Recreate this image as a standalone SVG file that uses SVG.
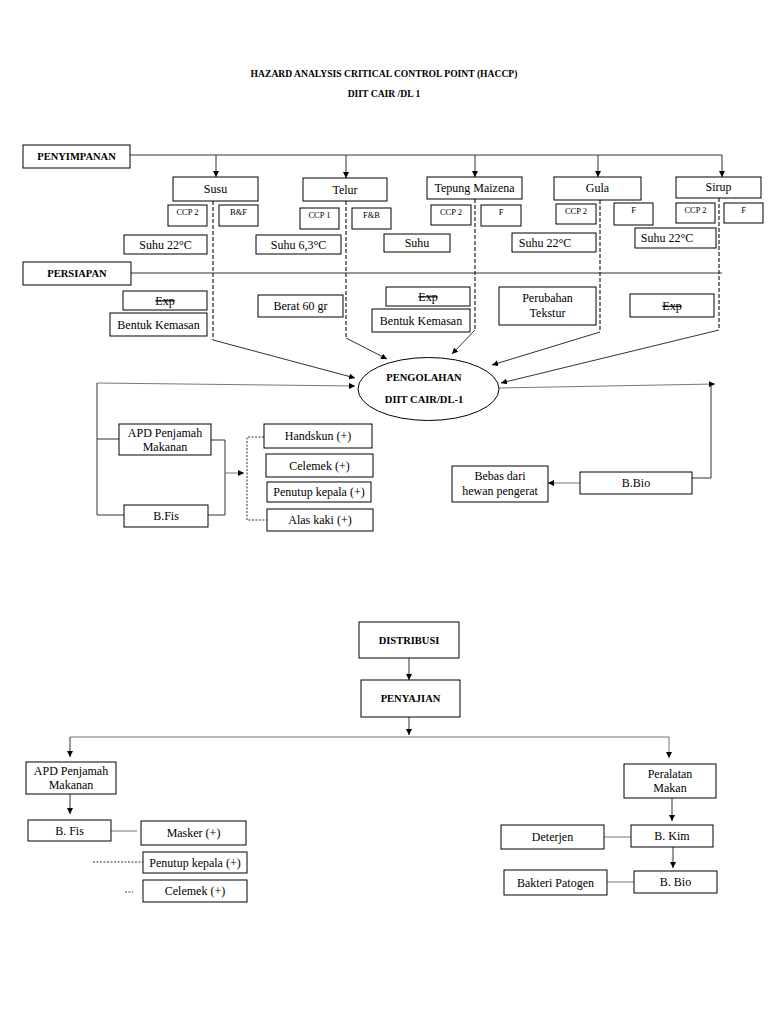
<svg xmlns="http://www.w3.org/2000/svg" width="768" height="1024" viewBox="0 0 768 1024">
<style>
  .bx{fill:#fff;stroke:#000;stroke-width:1}
  .t{font-family:"Liberation Serif","Times New Roman",serif;font-size:12px;fill:#000;text-anchor:middle}
  .s{font-family:"Liberation Serif","Times New Roman",serif;font-size:8.5px;fill:#000;text-anchor:middle}
  .b{font-family:"Liberation Serif","Times New Roman",serif;font-size:10.5px;font-weight:bold;fill:#000;text-anchor:middle}
  .h{font-family:"Liberation Serif","Times New Roman",serif;font-size:9.6px;font-weight:bold;fill:#000;text-anchor:middle}
  .ln{fill:none;stroke:#333;stroke-width:1}
  .gl{fill:none;stroke:#777;stroke-width:1}
  .ds{fill:none;stroke:#222;stroke-width:1.2;stroke-dasharray:4,2}
  .dt{fill:none;stroke:#333;stroke-width:1;stroke-dasharray:2,1.5}
  .strike{text-decoration:line-through}
</style>
<defs>
  <marker id="arr" viewBox="0 0 10 10" refX="10" refY="5" markerWidth="6" markerHeight="6" markerUnits="userSpaceOnUse" orient="auto">
    <path d="M0,0 L10,5 L0,10 z" fill="#000"/>
  </marker>
</defs>
<rect width="768" height="1024" fill="#fff"/>

<g id="title">
  <text class="h" x="384" y="77">HAZARD ANALYSIS CRITICAL CONTROL POINT (HACCP)</text>
  <text class="h" x="384" y="97">DIIT CAIR /DL 1</text>
</g>

<g id="connectors">
  <path class="ln" d="M130,155 H722"/>
  <path class="ln" d="M216,155 V177" marker-end="url(#arr)"/>
  <path class="ln" d="M346,155 V178" marker-end="url(#arr)"/>
  <path class="ln" d="M475,155 V177" marker-end="url(#arr)"/>
  <path class="ln" d="M598,155 V177" marker-end="url(#arr)"/>
  <path class="ln" d="M722,155 V177" marker-end="url(#arr)"/>
  <path class="ln" d="M131,273 H722"/>
  <path class="ds" d="M213,201 V340"/>
  <path class="ds" d="M346,201 V338"/>
  <path class="ds" d="M475,199 V330"/>
  <path class="ds" d="M600,200 V332"/>
  <path class="ds" d="M719,198 V330"/>
  <path class="ln" d="M213,340 L355,378" marker-end="url(#arr)"/>
  <path class="ln" d="M346,338 L387,359" marker-end="url(#arr)"/>
  <path class="ln" d="M475,330 L452,354" marker-end="url(#arr)"/>
  <path class="ln" d="M600,332 L492,365" marker-end="url(#arr)"/>
  <path class="ln" d="M719,330 L501,383" marker-end="url(#arr)"/>
  <path class="gl" d="M97,383 L355,386" marker-end="url(#arr)"/>
  <path class="ln" d="M97,383 V515 H124"/>
  <path class="ln" d="M97,439 H119"/>
  <path class="ln" d="M211,440 H225 V515 H208"/>
  <path class="gl" d="M225,473 H244" marker-end="url(#arr)"/>
  <path class="dt" d="M264,437 H247 V520 H267"/>
  <path class="gl" d="M499,388 L715,384" marker-end="url(#arr)"/>
  <path class="ln" d="M711,385 V478 H692"/>
  <path class="gl" d="M580,483 H548" marker-end="url(#arr)"/>
  <path class="ln" d="M409,658 V680" marker-end="url(#arr)"/>
  <path class="ln" d="M409,717 V735" marker-end="url(#arr)"/>
  <path class="gl" d="M70,757 V737 H669 V758" marker-end="url(#arr)"/>
  <path class="gl" d="M70,737 V757" marker-end="url(#arr)"/>
  <path class="ln" d="M70,794 V814" marker-end="url(#arr)"/>
  <path class="gl" d="M111,831 H137"/>
  <path class="dt" d="M93,862 H143"/>
  <path class="dt" d="M125,892 H133"/>
  <path class="ln" d="M672,798 V821" marker-end="url(#arr)"/>
  <path class="gl" d="M604,837 H631"/>
  <path class="ln" d="M673,847 V868" marker-end="url(#arr)"/>
  <path class="gl" d="M607,882 H634"/>
</g>

<g id="penyimpanan"><rect class="bx" x="23" y="145" width="107" height="23"/><text class="b" x="76.5" y="160">PENYIMPANAN</text></g>
<g id="persiapan"><rect class="bx" x="23" y="262" width="108" height="23"/><text class="b" x="77" y="277">PERSIAPAN</text></g>

<g id="susu"><rect class="bx" x="173" y="177" width="85" height="24"/><text class="t" x="215.5" y="193">Susu</text></g>
<g id="telur"><rect class="bx" x="303" y="178" width="84" height="23"/><text class="t" x="345" y="194">Telur</text></g>
<g id="tepung"><rect class="bx" x="427" y="177" width="95" height="22"/><text class="t" x="474.5" y="192">Tepung Maizena</text></g>
<g id="gula"><rect class="bx" x="554" y="177" width="87" height="23"/><text class="t" x="597.5" y="192">Gula</text></g>
<g id="sirup"><rect class="bx" x="676" y="177" width="85" height="21"/><text class="t" x="718.5" y="191">Sirup</text></g>

<g id="susu-ccp"><rect class="bx" x="168" y="205" width="39" height="21"/><text class="s" x="187.5" y="215">CCP 2</text></g>
<g id="susu-bf"><rect class="bx" x="219" y="205" width="39" height="21"/><text class="s" x="238.5" y="215">B&amp;F</text></g>
<g id="telur-ccp"><rect class="bx" x="300" y="208" width="39" height="21"/><text class="s" x="319.5" y="218">CCP 1</text></g>
<g id="telur-fb"><rect class="bx" x="352" y="208" width="39" height="21"/><text class="s" x="371.5" y="218">F&amp;B</text></g>
<g id="tepung-ccp"><rect class="bx" x="431" y="205" width="40" height="20"/><text class="s" x="451" y="215">CCP 2</text></g>
<g id="tepung-f"><rect class="bx" x="481" y="205" width="40" height="21"/><text class="s" x="501" y="215">F</text></g>
<g id="gula-ccp"><rect class="bx" x="556" y="204" width="40" height="20"/><text class="s" x="576" y="214">CCP 2</text></g>
<g id="gula-f"><rect class="bx" x="614" y="203" width="39" height="22"/><text class="s" x="633.5" y="213">F</text></g>
<g id="sirup-ccp"><rect class="bx" x="676" y="203" width="39" height="20"/><text class="s" x="695.5" y="213">CCP 2</text></g>
<g id="sirup-f"><rect class="bx" x="724" y="203" width="39" height="20"/><text class="s" x="743.5" y="213">F</text></g>

<g id="susu-suhu"><rect class="bx" x="124" y="235" width="83" height="19"/><text class="t" x="165.5" y="248.5">Suhu 22°C</text></g>
<g id="telur-suhu"><rect class="bx" x="256" y="235" width="85" height="19"/><text class="t" x="298.5" y="248.5">Suhu 6,3°C</text></g>
<g id="tepung-suhu"><rect class="bx" x="384" y="234" width="66" height="18"/><text class="t" x="417" y="247">Suhu</text></g>
<g id="gula-suhu"><rect class="bx" x="512" y="233" width="84" height="19"/><text class="t" x="545" y="246.5">Suhu 22°C</text></g>
<g id="sirup-suhu"><rect class="bx" x="635" y="228" width="81" height="20"/><text class="t" x="667" y="242">Suhu 22°C</text></g>

<g id="susu-exp"><rect class="bx" x="123" y="291" width="84" height="19"/><text class="t strike" x="165" y="304.5">Exp</text></g>
<g id="susu-bentuk"><rect class="bx" x="110" y="313" width="97" height="23"/><text class="t" x="158.5" y="328.5">Bentuk Kemasan</text></g>
<g id="telur-berat"><rect class="bx" x="258" y="295" width="85" height="22"/><text class="t" x="300.5" y="310">Berat 60 gr</text></g>
<g id="tepung-exp"><rect class="bx" x="386" y="287" width="84" height="19"/><text class="t strike" x="428" y="300.5">Exp</text></g>
<g id="tepung-bentuk"><rect class="bx" x="372" y="309" width="98" height="23"/><text class="t" x="421" y="324.5">Bentuk Kemasan</text></g>
<g id="gula-tekstur"><rect class="bx" x="499" y="287" width="97" height="38"/><text class="t" x="547.5" y="302">Perubahan</text><text class="t" x="547.5" y="317">Tekstur</text></g>
<g id="sirup-exp"><rect class="bx" x="630" y="294" width="84" height="23"/><text class="t strike" x="672" y="310">Exp</text></g>

<g id="pengolahan">
  <ellipse cx="428.5" cy="389" rx="70.5" ry="31.5" fill="#fff" stroke="#000" stroke-width="1"/>
  <text class="b" x="424" y="381">PENGOLAHAN</text>
  <text class="b" x="424" y="403">DIIT CAIR/DL-1</text>
</g>

<g id="apd1"><rect class="bx" x="119" y="424" width="92" height="31"/><text class="t" x="165" y="437">APD Penjamah</text><text class="t" x="165" y="451">Makanan</text></g>
<g id="bfis1"><rect class="bx" x="124" y="505" width="84" height="22"/><text class="t" x="166" y="520">B.Fis</text></g>
<g id="handskun"><rect class="bx" x="264" y="424" width="108" height="24"/><text class="t" x="318" y="440">Handskun (+)</text></g>
<g id="celemek1"><rect class="bx" x="266" y="454" width="107" height="23"/><text class="t" x="319.5" y="469.5">Celemek (+)</text></g>
<g id="penutup1"><rect class="bx" x="267" y="482" width="104" height="20"/><text class="t" x="319" y="496">Penutup kepala (+)</text></g>
<g id="alas"><rect class="bx" x="267" y="509" width="106" height="22"/><text class="t" x="320" y="524">Alas kaki (+)</text></g>

<g id="bbio1"><rect class="bx" x="580" y="472" width="112" height="22"/><text class="t" x="636" y="487">B.Bio</text></g>
<g id="bebas"><rect class="bx" x="452" y="466" width="96" height="36"/><text class="t" x="500" y="480">Bebas dari</text><text class="t" x="500" y="495">hewan pengerat</text></g>

<g id="distribusi"><rect class="bx" x="359" y="622" width="100" height="36"/><text class="b" x="409" y="644">DISTRIBUSI</text></g>
<g id="penyajian"><rect class="bx" x="361" y="680" width="99" height="37"/><text class="b" x="410.5" y="702">PENYAJIAN</text></g>

<g id="apd2"><rect class="bx" x="26" y="762" width="90" height="32"/><text class="t" x="71" y="775">APD Penjamah</text><text class="t" x="71" y="789">Makanan</text></g>
<g id="bfis2"><rect class="bx" x="28" y="820" width="83" height="21"/><text class="t" x="69.5" y="835">B. Fis</text></g>
<g id="masker"><rect class="bx" x="141" y="821" width="105" height="24"/><text class="t" x="193.5" y="837">Masker (+)</text></g>
<g id="penutup2"><rect class="bx" x="143" y="852" width="104" height="21"/><text class="t" x="195" y="866.5">Penutup kepala (+)</text></g>
<g id="celemek2"><rect class="bx" x="143" y="880" width="104" height="22"/><text class="t" x="195" y="895">Celemek (+)</text></g>

<g id="peralatan"><rect class="bx" x="624" y="764" width="92" height="34"/><text class="t" x="670" y="778">Peralatan</text><text class="t" x="670" y="792">Makan</text></g>
<g id="bkim"><rect class="bx" x="631" y="825" width="82" height="22"/><text class="t" x="672" y="840">B. Kim</text></g>
<g id="deterjen"><rect class="bx" x="501" y="825" width="103" height="24"/><text class="t" x="552.5" y="841">Deterjen</text></g>
<g id="bbio2"><rect class="bx" x="634" y="871" width="83" height="22"/><text class="t" x="675.5" y="886">B. Bio</text></g>
<g id="bakteri"><rect class="bx" x="504" y="870" width="103" height="25"/><text class="t" x="555.5" y="887">Bakteri Patogen</text></g>
</svg>
